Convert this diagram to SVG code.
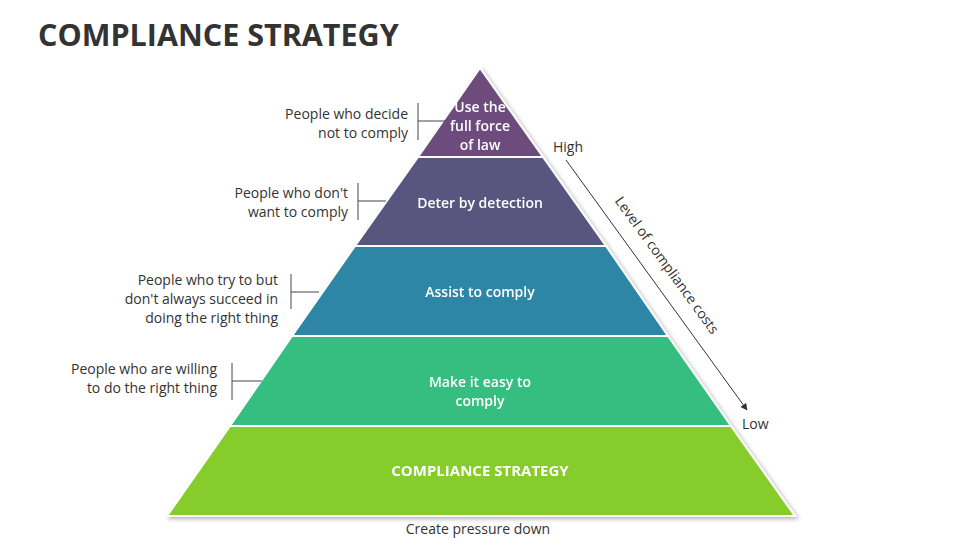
<svg xmlns="http://www.w3.org/2000/svg" width="960" height="540" viewBox="0 0 960 540">
<defs>
<style>
text{font-family:"Open Sans","Liberation Sans",sans-serif;}
.lbl{font-size:14px;fill:#333;text-anchor:end}
.in{font-size:14px;fill:#fff;text-anchor:middle;font-weight:600}
.br{stroke:#444;stroke-width:1;fill:none}
.lay{stroke:#fff;stroke-width:2}
</style>
<marker id="ah" viewBox="0 0 10 10" refX="9" refY="5" markerWidth="7" markerHeight="7" orient="auto"><path d="M0,0 L10,5 L0,10 z" fill="#333"/></marker>
<filter id="sh"><feDropShadow dx="2" dy="2" stdDeviation="2" flood-opacity="0.3"/></filter>
</defs>
<rect width="960" height="540" fill="#fff"/>
<text x="38" y="46" style="font-size:30.5px;font-weight:bold;fill:#333">COMPLIANCE STRATEGY</text>
<g filter="url(#sh)">
<g id="layer1"><polygon class="lay" points="480,68 543,157 418,157" fill="#6D4C7C"/>
<text class="in" x="480" y="112">Use the</text><text class="in" x="480" y="131">full force</text><text class="in" x="480" y="150">of law</text></g>
<g id="layer2"><polygon class="lay" points="418,157 543,157 606,246 355,246" fill="#58557E"/>
<text class="in" x="480" y="208">Deter by detection</text></g>
<g id="layer3"><polygon class="lay" points="355,246 606,246 668,336 292,336" fill="#2E86A6"/>
<text class="in" x="480" y="297">Assist to comply</text></g>
<g id="layer4"><polygon class="lay" points="292,336 668,336 731,426 230,426" fill="#34BE80"/>
<text class="in" x="480" y="387">Make it easy to</text><text class="in" x="480" y="406">comply</text></g>
<g id="layer5"><polygon class="lay" points="230,426 731,426 795,516 167,516" fill="#86CC2A"/>
<text class="in" x="480" y="476" style="font-weight:bold;font-size:15px">COMPLIANCE STRATEGY</text></g>
</g>
<g id="labels">
<text class="lbl" x="408" y="119">People who decide</text><text class="lbl" x="408" y="138">not to comply</text>
<text class="lbl" x="348" y="198">People who don't</text><text class="lbl" x="348" y="217">want to comply</text>
<text class="lbl" x="278" y="285">People who try to but</text><text class="lbl" x="278" y="304">don't always succeed in</text><text class="lbl" x="278" y="323">doing the right thing</text>
<text class="lbl" x="217" y="374">People who are willing</text><text class="lbl" x="217" y="393">to do the right thing</text>
<text x="478" y="534" style="font-size:14px;fill:#333;text-anchor:middle">Create pressure down</text>
<text x="553" y="152" style="font-size:14px;fill:#333">High</text>
<text x="742" y="429" style="font-size:14px;fill:#333">Low</text>
<text transform="translate(663,268) rotate(54)" style="font-size:14px;fill:#333;text-anchor:middle">Level of compliance costs</text>
</g>
<g id="connectors">
<path class="br" d="M418,103 V140 M418,121 H446"/>
<path class="br" d="M358,183 V220 M358,201 H386"/>
<path class="br" d="M291,274 V309 M291,292 H319"/>
<path class="br" d="M232,363 V400 M232,381 H262"/>
<line x1="566" y1="160" x2="747" y2="410" stroke="#333" stroke-width="1" marker-end="url(#ah)"/>
</g>
</svg>
